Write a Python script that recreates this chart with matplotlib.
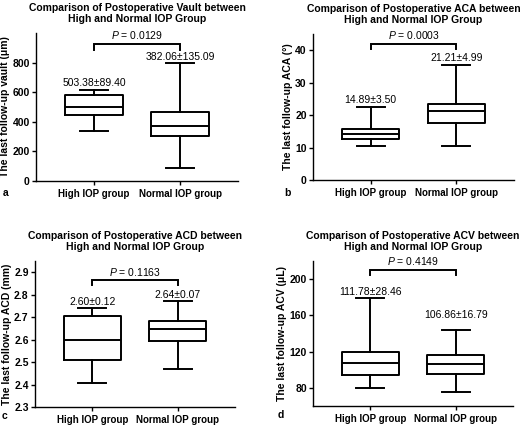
import matplotlib
matplotlib.use("Agg")
import matplotlib.pyplot as plt

plt.rcParams["font.family"] = ["Liberation Sans", "DejaVu Sans"]
plt.rcParams["mathtext.fontset"] = "custom"
plt.rcParams["mathtext.rm"] = "Liberation Sans"
plt.rcParams["mathtext.it"] = "Liberation Sans:italic"

# Data
groups = ["High IOP group", "Normal IOP group"]

titles = [
    "Comparison of Postoperative Vault between\nHigh and Normal IOP Group",
    "Comparison of Postoperative ACA between\nHigh and Normal IOP Group",
    "Comparison of Postoperative ACD between\nHigh and Normal IOP Group",
    "Comparison of Postoperative ACV between\nHigh and Normal IOP Group",
]
ylabels = [
    "The last follow-up vault (μm)",
    "The last follow-up ACA (°)",
    "The last follow-up ACD (mm)",
    "The last follow-up ACV (μL)",
]
panel_letters = ["a", "b", "c", "d"]

# [whislo, q1, median, q3, whishi] for (High, Normal)
vault_stats = [[338, 443, 503, 583, 616], [89, 302, 370, 466, 795]]
aca_stats = [[10.5, 12.65, 14.1, 15.7, 22.6], [10.5, 17.7, 21.4, 23.5, 35.5]]
acd_stats = [[2.407, 2.51, 2.60, 2.705, 2.74], [2.468, 2.593, 2.648, 2.685, 2.77]]
acv_stats = [[79.7, 93.9, 107.8, 119.3, 178.8], [75.6, 95.0, 105.9, 116.8, 144.2]]

mean_sd = [
    ["503.38±89.40", "382.06±135.09"],
    ["14.89±3.50", "21.21±4.99"],
    ["2.60±0.12", "2.64±0.07"],
    ["111.78±28.46", "106.86±16.79"],
]
p_values = ["0.0129", "0.0003", "0.1163", "0.4149"]

# bracket (top, leg end) in data units
brackets = [(925, 887), (42.0, 40.4), (2.864, 2.845), (210.5, 204.3)]

ylims = [(0, 1000), (0, 45), (2.3, 2.95), (60, 220)]
yticks = [
    [0, 200, 400, 600, 800],
    [0, 10, 20, 30, 40],
    [2.3, 2.4, 2.5, 2.6, 2.7, 2.8, 2.9],
    [80, 120, 160, 200],
]
ytick_fmt = ["{:.0f}", "{:.0f}", "{:.1f}", "{:.0f}"]

# annotation offsets above whisker cap (points)
label_offsets = [[1, 1], [1, 1], [1, 1], [1, 7]]

all_stats = [vault_stats, aca_stats, acd_stats, acv_stats]

W, H = 520, 428
fig = plt.figure(figsize=(W / 100, H / 100), dpi=100)

# axes rectangles in pixels: left, top, right, bottom
rects_px = [
    (36, 33, 238, 181),
    (313, 34, 514, 180),
    (35, 261, 235, 407),
    (313, 261, 513, 406),
]
letter_pos = [(3, 193), (284, 193), (2, 416), (278, 415)]

LW = 1.4

for i in range(4):
    l, t, r, b = rects_px[i]
    ax = fig.add_axes([l / W, 1 - b / H, (r - l) / W, (b - t) / H])

    stats = []
    for g, s in zip(groups, all_stats[i]):
        stats.append(dict(label=g, whislo=s[0], q1=s[1], med=s[2], q3=s[3], whishi=s[4], fliers=[]))

    ax.bxp(
        stats,
        positions=[0, 1],
        widths=0.67,
        capwidths=0.33,
        showfliers=False,
        patch_artist=False,
        boxprops=dict(color="black", linewidth=LW),
        whiskerprops=dict(color="black", linewidth=LW),
        capprops=dict(color="black", linewidth=LW),
        medianprops=dict(color="black", linewidth=LW),
    )

    ax.set_xlim(-0.674, 1.674)
    ax.set_ylim(*ylims[i])
    ax.set_yticks(yticks[i])
    ax.set_yticklabels([ytick_fmt[i].format(v) for v in yticks[i]], fontsize=7.5, fontweight="bold")
    ax.set_xticks([0, 1])
    ax.set_xticklabels(groups, fontsize=7, fontweight="bold")

    for side in ["top", "right"]:
        ax.spines[side].set_visible(False)
    for side in ["left", "bottom"]:
        ax.spines[side].set_linewidth(1.0)
    ax.tick_params(axis="both", length=3, width=1.0, pad=1.5, color="black")
    ax.tick_params(axis="x", pad=2.5)

    ax.set_ylabel(ylabels[i], fontsize=7.5, fontweight="bold", labelpad=1.5)
    ax.set_title(titles[i], fontsize=7.5, fontweight="bold", pad=8, linespacing=1.15)

    # mean ± SD labels
    for j, s in enumerate(all_stats[i]):
        ax.annotate(mean_sd[i][j], xy=(j, s[4]), xytext=(0, label_offsets[i][j]),
                    textcoords="offset points", ha="center", va="bottom", fontsize=7.5)

    # significance bracket
    top, leg = brackets[i]
    ax.plot([0, 0, 1, 1], [leg, top, top, leg], color="black", linewidth=LW,
            solid_joinstyle="miter", clip_on=False)
    ax.annotate(f"$\\it{{P}}$ = {p_values[i]}", xy=(0.5, top), xytext=(0, 2),
                textcoords="offset points", ha="center", va="bottom", fontsize=7.5,
                annotation_clip=False)

    lx, ly = letter_pos[i]
    fig.text(lx / W, 1 - ly / H, panel_letters[i], fontsize=7.5, fontweight="bold",
             ha="left", va="center")

fig.savefig("out.png", dpi=100)
